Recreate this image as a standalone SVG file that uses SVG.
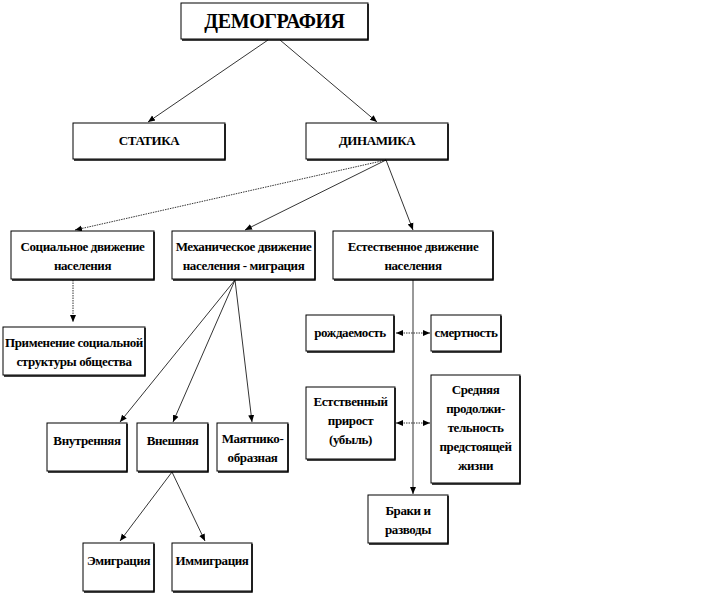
<svg xmlns="http://www.w3.org/2000/svg" width="702" height="594" viewBox="0 0 702 594">
<style>
.b{fill:#fff;stroke:#000;stroke-width:1}
.s{fill:none;stroke:#000;stroke-width:1.5}
text{font-family:"Liberation Serif",serif;font-weight:bold;font-size:13px;text-anchor:middle;fill:#000;letter-spacing:-0.4px}
.c line{stroke:#000;stroke-width:0.8;marker-end:url(#a)}
.d{stroke-dasharray:1.5 1}
</style>
<defs>
<marker id="a" markerWidth="8" markerHeight="8" refX="7" refY="4" orient="auto" markerUnits="userSpaceOnUse"><path d="M0,1 L7,4 L0,7z" fill="#000"/></marker>
<marker id="r" markerWidth="8" markerHeight="8" refX="0" refY="4" orient="auto" markerUnits="userSpaceOnUse"><path d="M7,1 L0,4 L7,7z" fill="#000"/></marker>
</defs>
<g class="c" id="connectors">
<line x1="268" y1="40" x2="148" y2="122"/>
<line x1="280" y1="40" x2="377" y2="122"/>
<line x1="386" y1="160" x2="75" y2="230" class="d"/>
<line x1="386" y1="160" x2="245" y2="230"/>
<line x1="386" y1="160" x2="413" y2="230"/>
<line x1="73" y1="280" x2="73" y2="322" class="d"/>
<line x1="235" y1="280" x2="120" y2="422"/>
<line x1="235" y1="280" x2="173" y2="422"/>
<line x1="235" y1="280" x2="252" y2="422"/>
<line x1="172" y1="472" x2="120" y2="541"/>
<line x1="172" y1="472" x2="205" y2="541"/>
<line x1="413" y1="280" x2="413" y2="494"/>
<line x1="396" y1="333" x2="430" y2="333" class="d" marker-start="url(#r)"/>
<line x1="396" y1="423" x2="430" y2="423" class="d" marker-start="url(#r)"/>
</g>
<g id="n1"><rect class="b" x="181" y="3" width="187" height="36"/><path class="s" d="M368,4 V40 H182"/><text x="274.5" y="28" style="font-size:20px">ДЕМОГРАФИЯ</text></g>
<g id="n2"><rect class="b" x="73" y="123" width="152" height="36"/><path class="s" d="M225,124 V160 H74"/><text x="149" y="145">СТАТИКА</text></g>
<g id="n3"><rect class="b" x="306" y="123" width="142" height="36"/><path class="s" d="M448,124 V160 H307"/><text x="377" y="145">ДИНАМИКА</text></g>
<g id="n4"><rect class="b" x="11" y="231" width="143" height="48"/><path class="s" d="M154,232 V280 H12"/><text x="82.5" y="251">Социальное движение</text><text x="82.5" y="270">населения</text></g>
<g id="n5"><rect class="b" x="172" y="231" width="143" height="48"/><path class="s" d="M315,232 V280 H173"/><text x="243.5" y="251">Механическое движение</text><text x="243.5" y="270">населения - миграция</text></g>
<g id="n6"><rect class="b" x="333" y="231" width="160" height="48"/><path class="s" d="M493,232 V280 H334"/><text x="413" y="251">Естественное движение</text><text x="413" y="270">населения</text></g>
<g id="n7"><rect class="b" x="3" y="327" width="142" height="48"/><path class="s" d="M145,328 V376 H4"/><text x="74" y="347">Применение социальной</text><text x="74" y="366">структуры  общества</text></g>
<g id="n8"><rect class="b" x="47" y="423" width="80" height="48"/><path class="s" d="M127,424 V472 H48"/><text x="87" y="445">Внутренняя</text></g>
<g id="n9"><rect class="b" x="137" y="423" width="71" height="48"/><path class="s" d="M208,424 V472 H138"/><text x="172.5" y="445">Внешняя</text></g>
<g id="n10"><rect class="b" x="217" y="423" width="71" height="48"/><path class="s" d="M288,424 V472 H218"/><text x="252.5" y="443">Маятнико-</text><text x="252.5" y="462">образная</text></g>
<g id="n11"><rect class="b" x="83" y="543" width="71" height="48"/><path class="s" d="M154,544 V592 H84"/><text x="118.5" y="565">Эмиграция</text></g>
<g id="n12"><rect class="b" x="172" y="543" width="80" height="48"/><path class="s" d="M252,544 V592 H173"/><text x="212" y="565">Иммиграция</text></g>
<g id="n13"><rect class="b" x="306" y="315" width="88" height="36"/><path class="s" d="M394,316 V352 H307"/><text x="350" y="337">рождаемость</text></g>
<g id="n14"><rect class="b" x="431" y="315" width="70" height="36"/><path class="s" d="M501,316 V352 H432"/><text x="466" y="337">смертность</text></g>
<g id="n15"><rect class="b" x="306" y="387" width="89" height="72"/><path class="s" d="M395,388 V460 H307"/><text x="350.5" y="406">Естственный</text><text x="350.5" y="425">прирост</text><text x="350.5" y="444">(убыль)</text></g>
<g id="n16"><rect class="b" x="431" y="375" width="89" height="108"/><path class="s" d="M520,376 V484 H432"/><text x="475.5" y="394">Средняя</text><text x="475.5" y="413">продолжи-</text><text x="475.5" y="432">тельность</text><text x="475.5" y="451">предстоящей</text><text x="475.5" y="470">жизни</text></g>
<g id="n17"><rect class="b" x="368" y="495" width="80" height="48"/><path class="s" d="M448,496 V544 H369"/><text x="408" y="515">Браки и</text><text x="408" y="534">разводы</text></g>
</svg>
